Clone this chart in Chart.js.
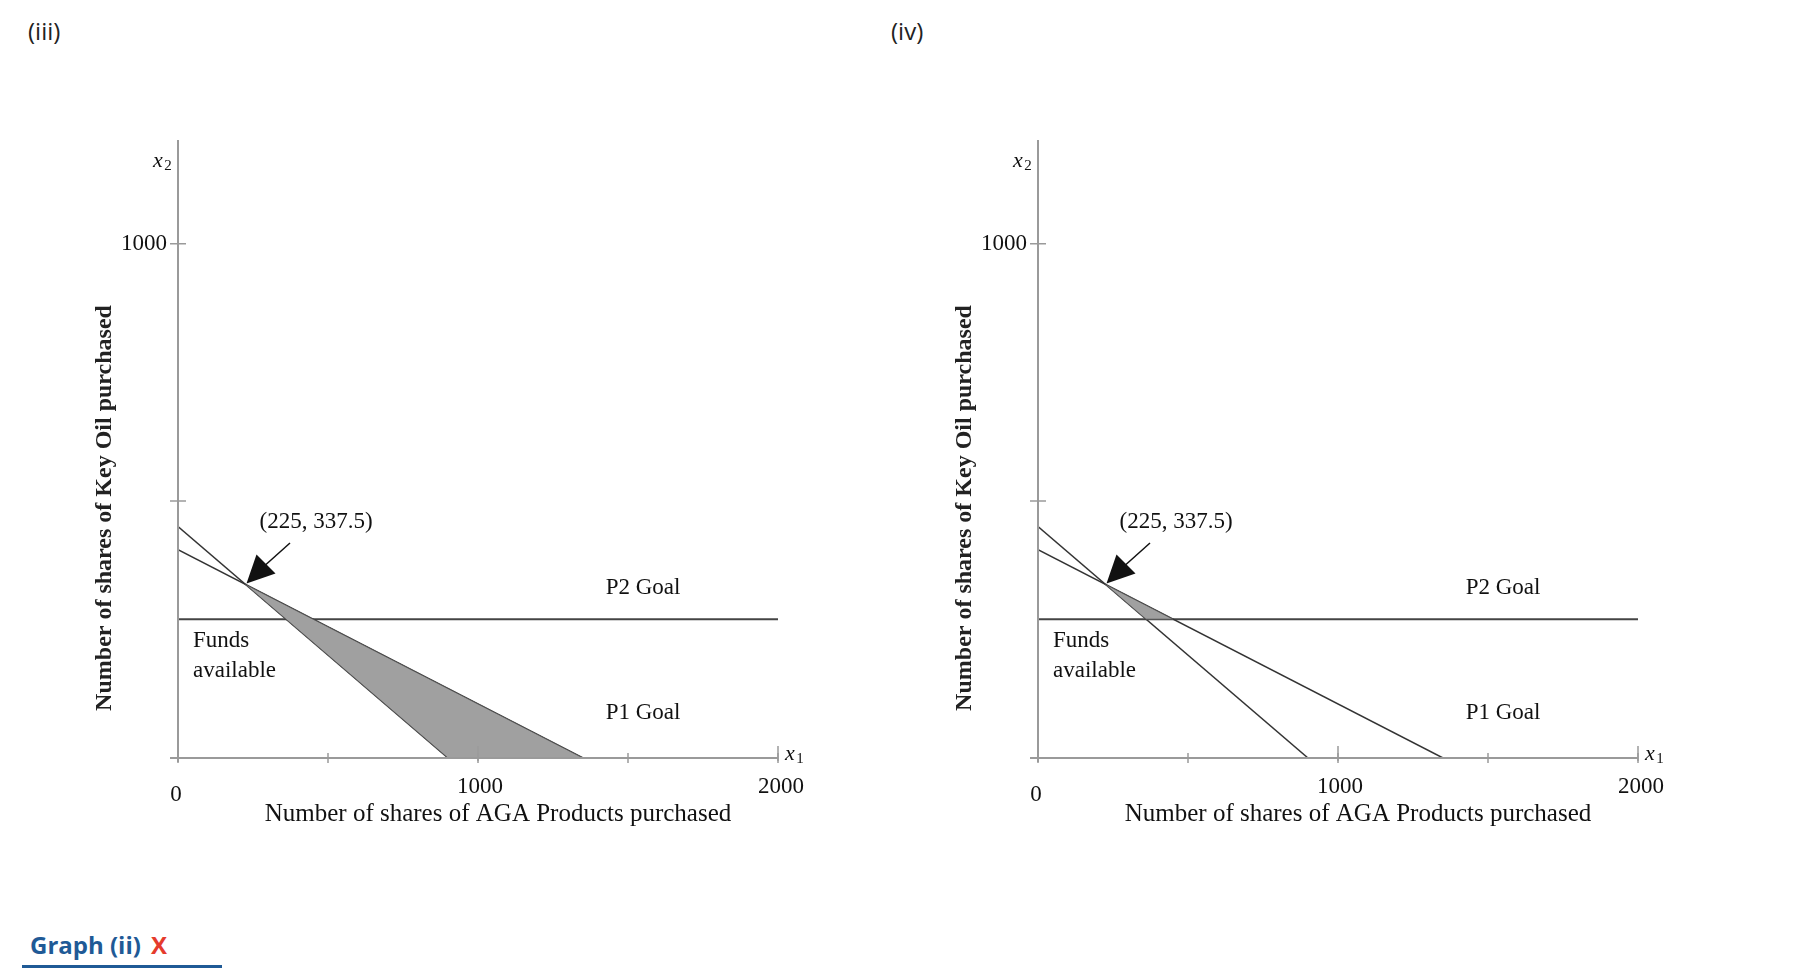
<!DOCTYPE html>
<html><head><meta charset="utf-8">
<script src="https://cdn.jsdelivr.net/npm/chart.js@4/dist/chart.umd.min.js"></script>
<style>
body{margin:0;background:#fff;width:1794px;height:976px;overflow:hidden;position:relative;font-family:"Open Sans",sans-serif}
.c{position:absolute;top:0;width:897px;height:976px}
.t{position:absolute;font-size:24px;color:#222}
#lnk{position:absolute;left:22px;top:928px;width:192px;border-bottom:3px solid #1f5a96;font:bold 24px "Open Sans",sans-serif;color:#1f5a96;padding:0 0 4px 8px}
#lnk span{color:#e53b2c;font-size:24px;margin-left:10px}
</style></head><body>
<div class="t" style="left:28px;top:14px">(iii)</div>
<div class="t" style="left:891px;top:14px">(iv)</div>
<div id="lnk">Graph (ii)<span>X</span></div>
<div class="c" style="left:0"><canvas id="c1"></canvas></div>
<div class="c" style="left:860px"><canvas id="c2"></canvas></div>
<script>
const xTicks=[0,500,1000,1500,2000];
const xTickLabels=['0','','1000','','2000'];
const yTicks=[0,500,1000];
const yTickLabels=['','','1000'];
const line1X=[0,900], line1Y=[450,0];
const line2X=[0,1350], line2Y=[405,0];
const goalX=[0,2000], goalY=[270,270];
const shadeIIIX=[225,1350,900,225], shadeIIIY=[337.5,0,0,337.5];
const shadeIVX=[225,450,360,225], shadeIVY=[337.5,270,270,337.5];
const pt=(xs,ys)=>xs.map((x,i)=>({x:x,y:ys[i]}));

const deco={id:'deco',afterDraw(ch){
  const c=ch.ctx,x=ch.scales.x,y=ch.scales.y;
  const X=v=>x.getPixelForValue(v),Y=v=>y.getPixelForValue(v);
  c.save();
  c.strokeStyle='#9a9a9a';c.lineWidth=2;
  c.beginPath();c.moveTo(X(0)-8,Y(0));c.lineTo(X(2000),Y(0));
  c.moveTo(X(0),Y(0)+4);c.lineTo(X(0),y.top);c.stroke();
  c.lineWidth=1.5;c.beginPath();
  xTicks.forEach(v=>{c.moveTo(X(v),Y(0)-5);c.lineTo(X(v),Y(0)+5);});
  yTicks.forEach(v=>{if(v>0){c.moveTo(X(0)-8,Y(v));c.lineTo(X(0)+8,Y(v));}});
  c.stroke();
  c.beginPath();[1000,2000].forEach(v=>{c.moveTo(X(v),Y(0)+3);c.lineTo(X(v),Y(0)-12);});c.stroke();
  c.fillStyle='#111';
  c.font='23px "Liberation Serif",serif';c.textBaseline='middle';
  c.textAlign='center';
  c.fillText('0',X(0)-2,Y(0)+37);
  c.fillText(xTickLabels[2],X(1000)+2,Y(0)+29);
  c.fillText(xTickLabels[4],X(2000)+3,Y(0)+29);
  c.textAlign='right';c.fillText(yTickLabels[2],X(0)-11,Y(1000));
  c.textAlign='center';
  c.fillText('(225, 337.5)',X(0)+138,Y(0)-236);
  c.fillText('P2 Goal',X(0)+465,Y(0)-170);
  c.fillText('P1 Goal',X(0)+465,Y(0)-45);
  c.textAlign='left';
  c.fillText('Funds',X(0)+15,Y(0)-117);
  c.fillText('available',X(0)+15,Y(0)-87);
  c.textAlign='center';
  c.font='25px "Liberation Serif",serif';
  c.fillText('Number of shares of AGA Products purchased',X(0)+320,Y(0)+56);
  c.font='italic 22px "Liberation Serif",serif';
  c.fillText('x',X(0)-20,Y(0)-597);c.fillText('x',X(2000)+12,Y(0)-4);
  c.font='15px "Liberation Serif",serif';
  c.fillText('2',X(0)-10,Y(0)-592);c.fillText('1',X(2000)+22,Y(0)+1);
  c.save();c.translate(X(0)-73,Y(0)-250);c.rotate(-Math.PI/2);
  c.font='bold 24px "Liberation Serif",serif';c.fillStyle='#222';
  c.fillText('Number of shares of Key Oil purchased',0,0);c.restore();
  const tx=X(225)+1,ty=Y(337.5)-1;
  c.strokeStyle='#111';c.lineWidth=1.5;c.beginPath();c.moveTo(X(0)+112,Y(0)-215);c.lineTo(tx+15,ty-15);c.stroke();
  c.beginPath();c.moveTo(tx,ty);c.lineTo(tx+10,ty-29);c.lineTo(tx+29,ty-10);c.closePath();c.fill();
  c.restore();
}};

function make(id,shX,shY){
  new Chart(document.getElementById(id),{type:'scatter',
    data:{datasets:[
      {data:pt(shX,shY),showLine:true,fill:'shape',backgroundColor:'#a0a0a0',borderColor:'#555',borderWidth:0.8,pointRadius:0},
      {data:pt(line1X,line1Y),showLine:true,borderColor:'#333',borderWidth:1.5,pointRadius:0},
      {data:pt(line2X,line2Y),showLine:true,borderColor:'#333',borderWidth:1.5,pointRadius:0},
      {data:pt(goalX,goalY),showLine:true,borderColor:'#444',borderWidth:2,pointRadius:0}]},
    options:{responsive:true,maintainAspectRatio:false,animation:false,
      layout:{padding:{top:140,right:119,left:0,bottom:0}},
      plugins:{legend:{display:false},tooltip:{enabled:false}},
      scales:{
        x:{type:'linear',min:0,max:2000,grid:{display:false},border:{display:false},ticks:{display:false},afterFit:s=>{s.height=218;}},
        y:{type:'linear',min:0,max:1202,grid:{display:false},border:{display:false},ticks:{display:false},afterFit:s=>{s.width=178;}}}},
    plugins:[deco]});
}
make('c1',shadeIIIX,shadeIIIY);
make('c2',shadeIVX,shadeIVY);
</script></body></html>
